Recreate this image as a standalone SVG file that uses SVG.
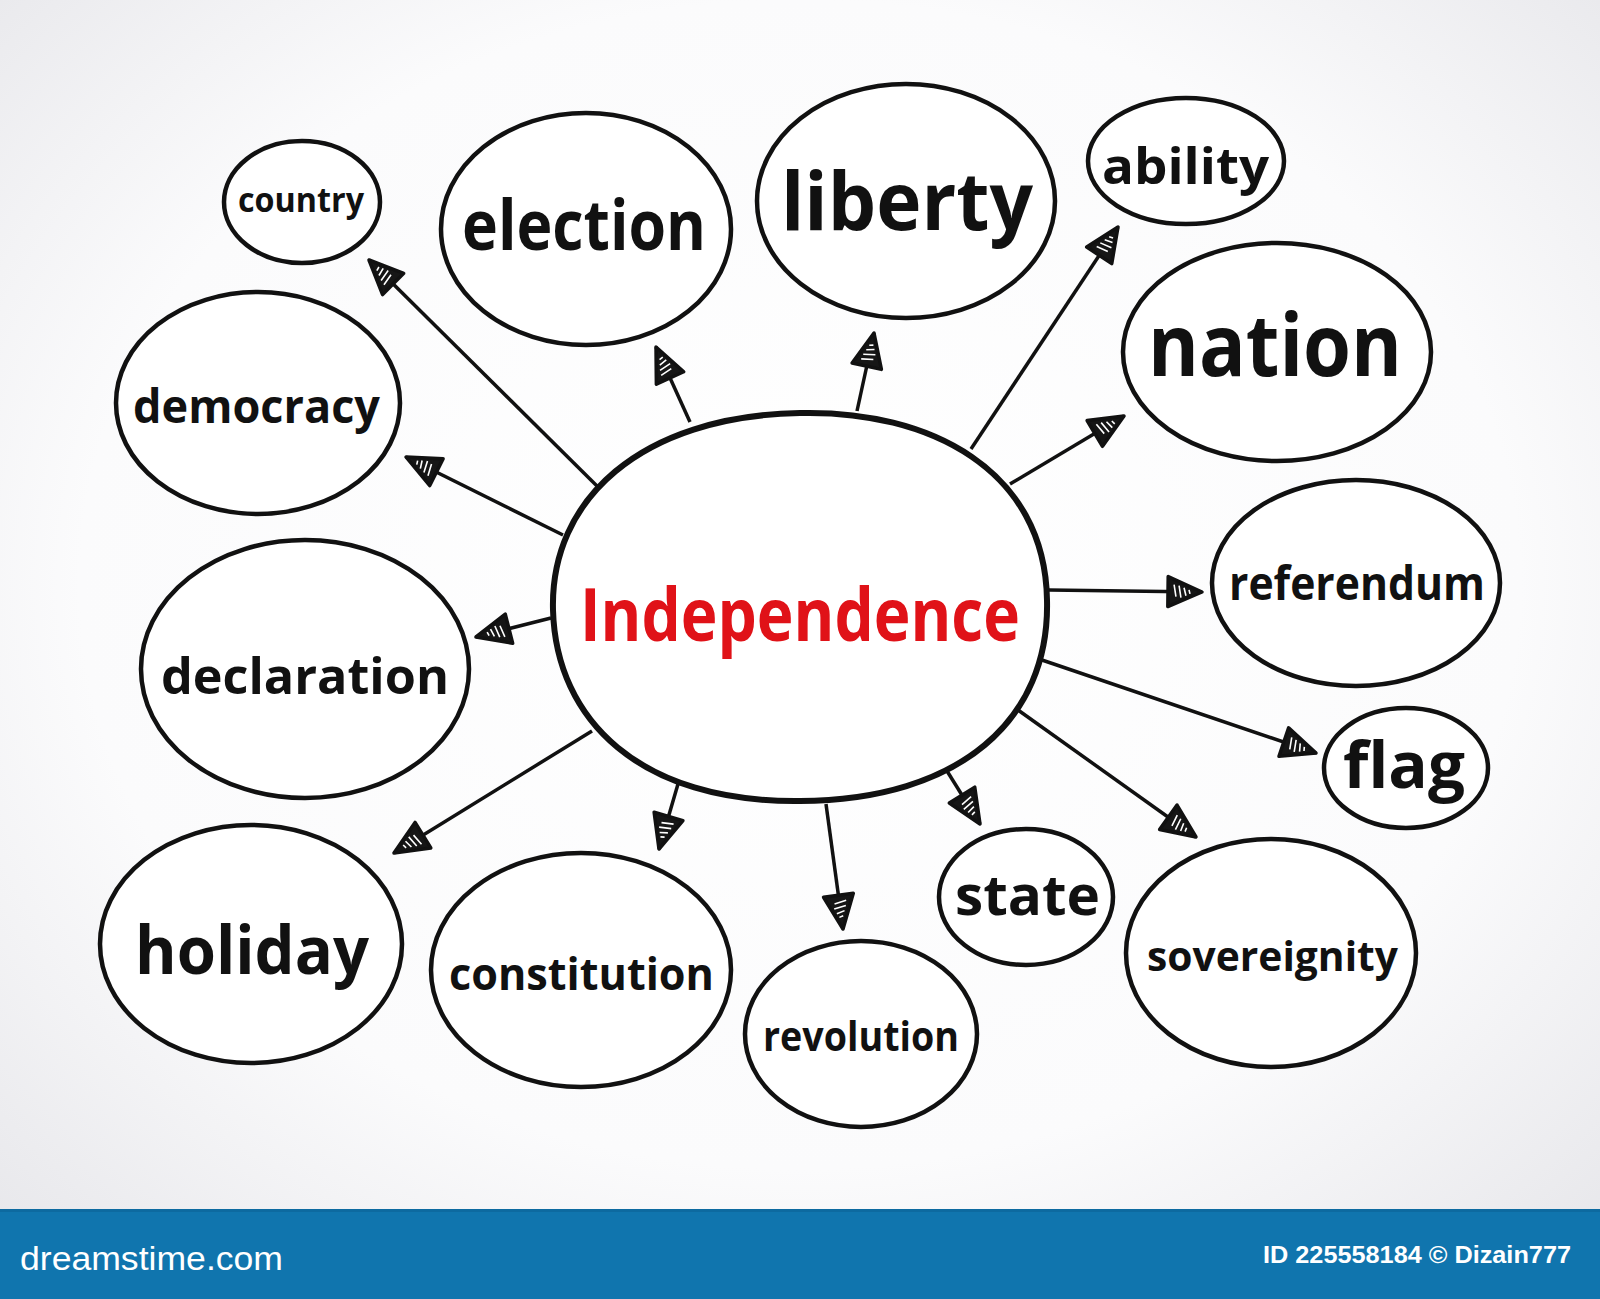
<svg xmlns="http://www.w3.org/2000/svg" width="1600" height="1299" viewBox="0 0 1600 1299">
<defs>
<radialGradient id="bg" cx="50%" cy="45%" r="75%">
<stop offset="0" stop-color="#ffffff"/>
<stop offset="0.6" stop-color="#fbfbfc"/>
<stop offset="1" stop-color="#e4e4e8"/>
</radialGradient>
<marker id="ah" viewBox="0 0 40 36" refX="37" refY="18" markerWidth="40" markerHeight="36" markerUnits="userSpaceOnUse" orient="auto">
<polygon points="3,3 37,18 3,33" fill="#161616" stroke="#111" stroke-width="3.5" stroke-linejoin="round"/>
<path d="M9,11 L11,23 M14,12 L16,24 M19,14 L21,22 M24,16 L25,20" stroke="#fff" stroke-width="1.6" fill="none"/>
</marker>
<style>
.n{fill:#fff;stroke:#111;stroke-width:4.5}
.t{font-family:"Open Sans","DejaVu Sans",sans-serif;font-weight:700;fill:#111;text-anchor:start}
.c{stroke:#111;stroke-width:3.5;fill:none;marker-end:url(#ah)}
</style>
</defs>
<rect width="1600" height="1299" fill="url(#bg)"/>

<g id="connectors">
<line class="c" x1="597" y1="486" x2="369" y2="260"/>
<line class="c" x1="690" y1="422" x2="656" y2="347"/>
<line class="c" x1="857" y1="411" x2="874" y2="333"/>
<line class="c" x1="971" y1="449" x2="1118" y2="227"/>
<line class="c" x1="1010" y1="484" x2="1124" y2="416"/>
<line class="c" x1="1049" y1="590" x2="1202" y2="592"/>
<line class="c" x1="1039" y1="659" x2="1316" y2="753"/>
<line class="c" x1="1018" y1="710" x2="1196" y2="837"/>
<line class="c" x1="947" y1="771" x2="980" y2="824"/>
<line class="c" x1="826" y1="804" x2="843" y2="929"/>
<line class="c" x1="678" y1="784" x2="659" y2="849"/>
<line class="c" x1="592" y1="731" x2="394" y2="853"/>
<line class="c" x1="551" y1="618" x2="476" y2="637"/>
<line class="c" x1="563" y1="535" x2="406" y2="457"/>
</g>

<g id="center">
<path d="M800,413 C930,410 1045,470 1047,600 C1050,720 960,800 800,801 C640,803 556,720 553,610 C550,500 640,416 800,413 Z" fill="#fff" stroke="#111" stroke-width="6"/>
<text x="580" y="641" font-family="Open Sans, DejaVu Sans, sans-serif" font-weight="700" font-size="74" fill="#e01218" textLength="440" lengthAdjust="spacingAndGlyphs">Independence</text>
</g>

<g id="country"><ellipse class="n" cx="302" cy="202" rx="78" ry="61"/><text class="t" x="238" y="212" font-size="34" textLength="126" lengthAdjust="spacingAndGlyphs">country</text></g>
<g id="election"><ellipse class="n" cx="586" cy="229" rx="145" ry="116"/><text class="t" x="462" y="250" font-size="70" textLength="244" lengthAdjust="spacingAndGlyphs">election</text></g>
<g id="liberty"><ellipse class="n" cx="906" cy="201" rx="149" ry="117"/><text class="t" x="781" y="230" font-size="80" textLength="252" lengthAdjust="spacingAndGlyphs">liberty</text></g>
<g id="ability"><ellipse class="n" cx="1186" cy="161" rx="98" ry="63"/><text class="t" x="1102" y="184" font-size="50" textLength="167" lengthAdjust="spacingAndGlyphs">ability</text></g>
<g id="nation"><ellipse class="n" cx="1277" cy="352" rx="154" ry="109"/><text class="t" x="1148" y="376" font-size="86" textLength="254" lengthAdjust="spacingAndGlyphs">nation</text></g>
<g id="referendum"><ellipse class="n" cx="1356" cy="583" rx="144" ry="103"/><text class="t" x="1229" y="600" font-size="46" textLength="256" lengthAdjust="spacingAndGlyphs">referendum</text></g>
<g id="flag"><ellipse class="n" cx="1406" cy="768" rx="82" ry="60"/><text class="t" x="1343" y="788" font-size="64" textLength="122" lengthAdjust="spacingAndGlyphs">flag</text></g>
<g id="sovereignity"><ellipse class="n" cx="1271" cy="953" rx="145" ry="114"/><text class="t" x="1147" y="971" font-size="42" textLength="251" lengthAdjust="spacingAndGlyphs">sovereignity</text></g>
<g id="state"><ellipse class="n" cx="1026" cy="897" rx="87" ry="68"/><text class="t" x="955" y="915" font-size="56" textLength="145" lengthAdjust="spacingAndGlyphs">state</text></g>
<g id="revolution"><ellipse class="n" cx="861" cy="1034" rx="116" ry="93"/><text class="t" x="763" y="1051" font-size="42" textLength="196" lengthAdjust="spacingAndGlyphs">revolution</text></g>
<g id="constitution"><ellipse class="n" cx="581" cy="970" rx="150" ry="117"/><text class="t" x="449" y="990" font-size="44" textLength="265" lengthAdjust="spacingAndGlyphs">constitution</text></g>
<g id="holiday"><ellipse class="n" cx="251" cy="944" rx="151" ry="119"/><text class="t" x="135" y="974" font-size="66" textLength="234" lengthAdjust="spacingAndGlyphs">holiday</text></g>
<g id="declaration"><ellipse class="n" cx="305" cy="669" rx="164" ry="129"/><text class="t" x="161" y="694" font-size="50" textLength="288" lengthAdjust="spacingAndGlyphs">declaration</text></g>
<g id="democracy"><ellipse class="n" cx="258" cy="403" rx="142" ry="111"/><text class="t" x="133" y="423" font-size="46" textLength="247" lengthAdjust="spacingAndGlyphs">democracy</text></g>

<g id="footer">
<rect x="0" y="1209" width="1600" height="90" fill="#1075ae"/>
<rect x="0" y="1209" width="1600" height="3" fill="#0d6aa0"/>
<text x="20" y="1270" font-family="Liberation Sans, Arial, sans-serif" font-size="34" fill="#fff" textLength="263" lengthAdjust="spacingAndGlyphs">dreamstime.com</text>
<text x="1571" y="1263" font-family="Liberation Sans, Arial, sans-serif" font-weight="700" font-size="24" fill="#fff" text-anchor="end" textLength="308" lengthAdjust="spacingAndGlyphs">ID 225558184 © Dizain777</text>
</g>
</svg>
